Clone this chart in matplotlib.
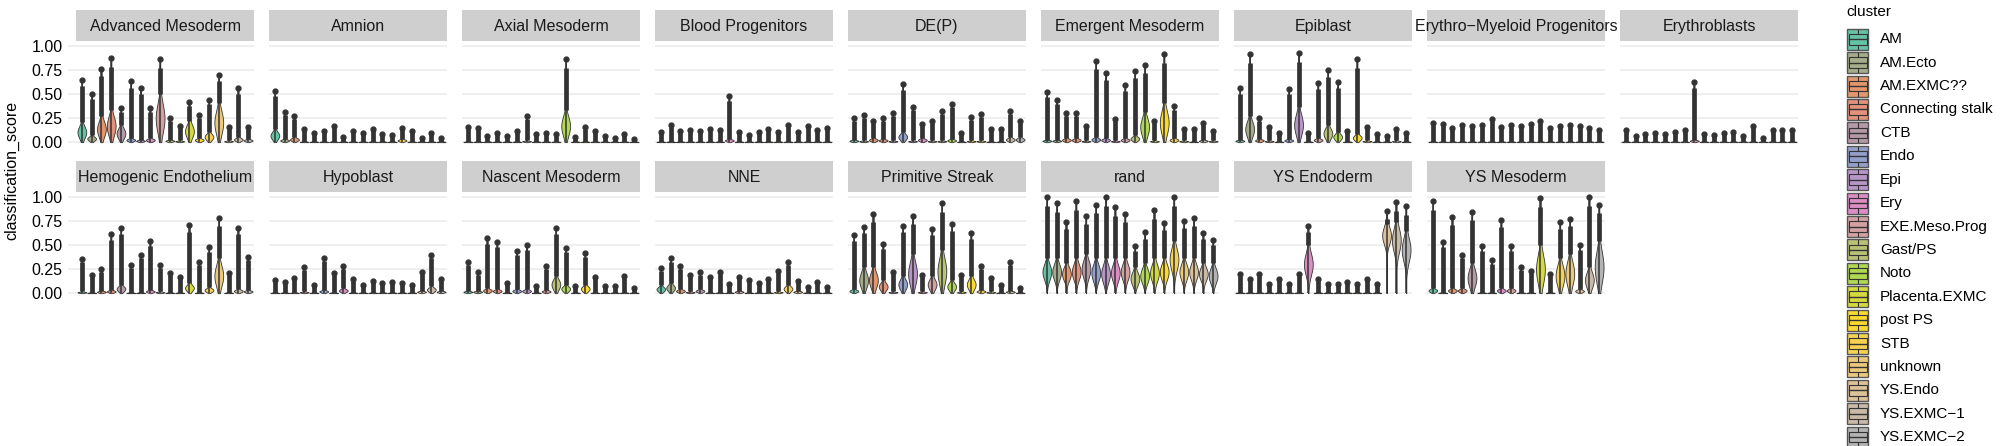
import numpy as np
import matplotlib.pyplot as plt
from matplotlib.patches import Rectangle
from matplotlib.colors import to_rgb, to_hex

plt.rcParams['font.family'] = ['Liberation Sans', 'DejaVu Sans']

clusters = ["AM", "AM.Ecto", "AM.EXMC??", "Connecting stalk", "CTB", "Endo", "Epi",
            "Ery", "EXE.Meso.Prog", "Gast/PS", "Noto", "Placenta.EXMC", "post PS",
            "STB", "unknown", "YS.Endo", "YS.EXMC\u22121", "YS.EXMC\u22122"]

panels = ["Advanced Mesoderm", "Amnion", "Axial Mesoderm", "Blood Progenitors", "DE(P)",
          "Emergent Mesoderm", "Epiblast", "Erythro\u2212Myeloid Progenitors", "Erythroblasts",
          "Hemogenic Endothelium", "Hypoblast", "Nascent Mesoderm", "NNE", "Primitive Streak",
          "rand", "YS Endoderm", "YS Mesoderm"]

# max classification score per cluster (top of outliers) and height of the violin body
adv_meso_max = [0.65, 0.50, 0.76, 0.87, 0.35, 0.63, 0.56, 0.35, 0.86, 0.25, 0.17, 0.42, 0.28, 0.44, 0.70, 0.16, 0.56, 0.16]
adv_meso_body = [0.23, 0.08, 0.30, 0.37, 0.20, 0.05, 0.03, 0.05, 0.55, 0.03, 0.02, 0.25, 0.05, 0.12, 0.45, 0.02, 0.06, 0.04]
amnion_max = [0.53, 0.31, 0.27, 0.135, 0.094, 0.12, 0.17, 0.05, 0.12, 0.10, 0.14, 0.087, 0.076, 0.15, 0.12, 0.04, 0.094, 0.04]
amnion_body = [0.15, 0.04, 0.06, 0, 0, 0, 0, 0, 0, 0, 0, 0, 0, 0.04, 0, 0, 0, 0]
axial_max = [0.156, 0.146, 0.066, 0.094, 0.066, 0.12, 0.27, 0.087, 0.094, 0.087, 0.86, 0.05, 0.156, 0.12, 0.06, 0.04, 0.087, 0.03]
axial_body = [0, 0, 0, 0, 0, 0, 0.02, 0, 0, 0, 0.37, 0, 0, 0, 0, 0, 0, 0]
blood_max = [0.11, 0.18, 0.12, 0.13, 0.12, 0.14, 0.125, 0.48, 0.11, 0.076, 0.11, 0.14, 0.11, 0.18, 0.11, 0.17, 0.13, 0.15]
blood_body = [0, 0, 0, 0, 0, 0, 0, 0.04, 0, 0, 0, 0, 0, 0, 0, 0, 0, 0]
dep_max = [0.25, 0.28, 0.22, 0.25, 0.30, 0.60, 0.37, 0.19, 0.22, 0.32, 0.40, 0.10, 0.26, 0.29, 0.14, 0.14, 0.32, 0.22]
dep_body = [0.03, 0.02, 0.05, 0.04, 0.02, 0.12, 0.02, 0.05, 0.02, 0.02, 0.04, 0, 0.02, 0.02, 0, 0, 0.06, 0.06]
emergent_max = [0.52, 0.44, 0.30, 0.30, 0.17, 0.84, 0.72, 0.24, 0.59, 0.74, 0.80, 0.22, 0.91, 0.375, 0.14, 0.14, 0.20, 0.12]
emergent_body = [0.03, 0.03, 0.05, 0.05, 0.02, 0.06, 0.05, 0.02, 0.05, 0.08, 0.35, 0.02, 0.45, 0.05, 0.02, 0, 0.03, 0.02]
epiblast_max = [0.56, 0.91, 0.25, 0.16, 0.10, 0.55, 0.93, 0.10, 0.61, 0.75, 0.62, 0.12, 0.86, 0.16, 0.08, 0.06, 0.14, 0.10]
epiblast_body = [0.03, 0.30, 0.04, 0.02, 0, 0.04, 0.40, 0, 0.05, 0.20, 0.12, 0, 0.10, 0.02, 0, 0, 0.02, 0]
emp_max = [0.20, 0.19, 0.15, 0.18, 0.17, 0.18, 0.24, 0.16, 0.18, 0.17, 0.19, 0.22, 0.15, 0.17, 0.18, 0.17, 0.15, 0.13]
emp_body = [0] * 18
erythroblast_max = [0.125, 0.06, 0.08, 0.10, 0.08, 0.11, 0.13, 0.62, 0.08, 0.07, 0.10, 0.11, 0.06, 0.17, 0.045, 0.125, 0.125, 0.125]
erythroblast_body = [0, 0, 0, 0, 0, 0, 0, 0.03, 0, 0, 0, 0, 0, 0, 0, 0, 0, 0]
hemogenic_max = [0.354, 0.19, 0.25, 0.61, 0.68, 0.29, 0.40, 0.54, 0.29, 0.21, 0.17, 0.71, 0.32, 0.48, 0.78, 0.21, 0.68, 0.38]
hemogenic_body = [0.02, 0, 0.03, 0.04, 0.10, 0, 0, 0.04, 0.02, 0, 0, 0.12, 0, 0.07, 0.40, 0, 0.05, 0.04]
hypoblast_max = [0.14, 0.12, 0.16, 0.27, 0.08, 0.37, 0.21, 0.28, 0.15, 0.08, 0.13, 0.11, 0.12, 0.11, 0.08, 0.22, 0.40, 0.15]
hypoblast_body = [0, 0, 0, 0.02, 0, 0.04, 0, 0.06, 0, 0, 0, 0, 0, 0, 0, 0.03, 0.08, 0.03]
nascent_max = [0.32, 0.215, 0.57, 0.53, 0.11, 0.44, 0.50, 0.076, 0.28, 0.68, 0.47, 0.076, 0.42, 0.17, 0.07, 0.07, 0.18, 0.05]
nascent_body = [0.03, 0.03, 0.06, 0.05, 0, 0.05, 0.05, 0, 0.04, 0.20, 0.10, 0, 0.10, 0, 0, 0, 0, 0]
nne_max = [0.26, 0.36, 0.28, 0.19, 0.215, 0.17, 0.22, 0.094, 0.17, 0.135, 0.11, 0.146, 0.23, 0.32, 0.13, 0.06, 0.12, 0.066]
nne_body = [0.09, 0.12, 0.05, 0.02, 0.05, 0, 0, 0, 0.03, 0, 0, 0, 0.02, 0.10, 0.03, 0, 0, 0]
ps_max = [0.60, 0.69, 0.82, 0.51, 0.22, 0.70, 0.80, 0.19, 0.67, 0.94, 0.72, 0.19, 0.62, 0.28, 0.16, 0.08, 0.32, 0.05]
ps_body = [0.05, 0.30, 0.30, 0.15, 0.02, 0.20, 0.45, 0.02, 0.20, 0.50, 0.15, 0.02, 0.20, 0.04, 0.02, 0, 0.03, 0]
rand_max = [1.0, 0.94, 0.74, 0.96, 0.80, 0.92, 1.0, 0.89, 0.82, 0.49, 0.63, 0.86, 0.73, 1.0, 0.75, 0.78, 0.62, 0.55]
rand_body = [0.40, 0.40, 0.35, 0.40, 0.45, 0.40, 0.40, 0.40, 0.40, 0.30, 0.35, 0.40, 0.40, 0.60, 0.40, 0.40, 0.35, 0.35]
rand_mid = [0.22, 0.22, 0.20, 0.22, 0.25, 0.21, 0.20, 0.21, 0.22, 0.15, 0.18, 0.21, 0.22, 0.35, 0.22, 0.22, 0.20, 0.18]
ys_endo_max = [0.20, 0.15, 0.20, 0.10, 0.15, 0.10, 0.20, 0.70, 0.15, 0.10, 0.10, 0.12, 0.10, 0.15, 0.10, 0.85, 0.95, 0.90]
ys_endo_body = [0, 0, 0, 0, 0, 0, 0, 0.55, 0, 0, 0, 0, 0, 0, 0, 0.80, 0.82, 0.72]
ys_endo_mid = [None] * 7 + [0.30] + [None] * 7 + [0.60, 0.55, 0.45]
ys_meso_max = [0.96, 0.53, 0.79, 0.40, 0.84, 0.49, 0.34, 0.76, 0.49, 0.27, 0.23, 0.99, 0.20, 0.74, 0.77, 0.50, 1.0, 0.92]
ys_meso_body = [0.06, 0, 0.06, 0.06, 0.35, 0, 0, 0.06, 0.06, 0, 0, 0.55, 0, 0.40, 0.45, 0.05, 0.30, 0.60]

panel_max = [adv_meso_max, amnion_max, axial_max, blood_max, dep_max, emergent_max, epiblast_max,
             emp_max, erythroblast_max, hemogenic_max, hypoblast_max, nascent_max, nne_max,
             ps_max, rand_max, ys_endo_max, ys_meso_max]
panel_body = [adv_meso_body, amnion_body, axial_body, blood_body, dep_body, emergent_body,
              epiblast_body, emp_body, erythroblast_body, hemogenic_body, hypoblast_body,
              nascent_body, nne_body, ps_body, rand_body, ys_endo_body, ys_meso_body]
panel_mid = {"rand": rand_mid, "YS Endoderm": ys_endo_mid}

# Set2 palette stretched to 18 colours (like colorRampPalette in R)
set2 = ["#66C2A5", "#FC8D62", "#8DA0CB", "#E78AC3", "#A6D854", "#FFD92F", "#E5C494", "#B3B3B3"]
base = np.array([to_rgb(c) for c in set2])
pos = np.linspace(0, len(set2) - 1, len(clusters))
colors = []
for p in pos:
    i = min(int(np.floor(p)), len(set2) - 2)
    t = p - i
    colors.append(to_hex(base[i] * (1 - t) + base[i + 1] * t))

W, H = 2000, 446
fig = plt.figure(figsize=(W / 100, H / 100), dpi=100)

pan_w, pitch = 178, 193
x0 = 76
rows_top = [41, 192]
pan_h = 106
strip_h = 31
dark = "#333333"


def draw_violin(ax, x, top, body, mid, color):
    ys = np.linspace(0, top, 300)
    if body < 0.01:
        c, s = 0.0, 0.007
    elif mid is None:
        c, s = 0.45 * body, 0.27 * body
    else:
        c, s = mid, (body - mid) / 2.2
    half = 0.45 * np.exp(-(ys - c) ** 2 / (2 * s ** 2))
    half = np.maximum(half, 0.02)
    ax.fill_betweenx(ys, x - half, x + half, facecolor=color, edgecolor=dark, lw=0.6, zorder=2)
    # boxplot whisker + stacked outliers
    ax.plot([x, x], [0, top], color=dark, lw=1.1, zorder=3, solid_capstyle='butt')
    lo = max(body * 0.9, 0.005)
    hi = top * 0.9
    if hi > lo:
        ax.plot([x, x], [lo, hi], color=dark, lw=3.4, zorder=3, solid_capstyle='butt')
    ax.plot([x], [top], 'o', color=dark, ms=3.5, zorder=4)


xs = np.arange(1, len(clusters) + 1)
for k, name in enumerate(panels):
    r, col = divmod(k, 9)
    left = x0 + col * pitch
    top_px = rows_top[r]
    ax = fig.add_axes([left / W, 1 - (top_px + pan_h) / H, pan_w / W, pan_h / H])
    ax.set_xlim(0.4, len(clusters) + 0.6)
    ax.set_ylim(-0.05, 1.05)
    for sp in ax.spines.values():
        sp.set_visible(False)
    ax.set_yticks([0, 0.25, 0.5, 0.75, 1.0])
    ax.yaxis.grid(True, color="#EBEBEB", lw=1.1)
    ax.set_axisbelow(True)
    ax.set_xticks([])
    if col == 0:
        ax.set_yticklabels(["0.00", "0.25", "0.50", "0.75", "1.00"], fontsize=11.5)
        ax.tick_params(axis='y', length=5.5, width=1.1, color="#EBEBEB", pad=4)
    else:
        ax.set_yticklabels([])
        ax.tick_params(axis='y', length=0)
    mids = panel_mid.get(name, [None] * len(clusters))
    for x, top, body, mid, c in zip(xs, panel_max[k], panel_body[k], mids, colors):
        draw_violin(ax, x, top, body, mid, c)

    # facet strip
    sax = fig.add_axes([left / W, 1 - top_px / H, pan_w / W, strip_h / H])
    sax.set_xlim(0, 1)
    sax.set_ylim(0, 1)
    sax.add_patch(Rectangle((0, 0), 1, 1, facecolor="#CFCFCF", edgecolor="none"))
    sax.axis('off')
    sax.text(0.5, 0.47, name, ha='center', va='center', fontsize=11.5, color="#1A1A1A", clip_on=False)

fig.text(12 / W, 1 - 170 / H, "classification_score", rotation=90, ha='center', va='center',
         fontsize=11.5)

# legend
lax = fig.add_axes([1830 / W, 0, 170 / W, 1])
lax.set_xlim(1830, 2000)
lax.set_ylim(H, 0)
lax.axis('off')
lax.text(1846, 12, "cluster", ha='left', va='center', fontsize=11)
for i, (lab, c) in enumerate(zip(clusters, colors)):
    yc = 39.3 + 23.4 * i
    kx, kw, kh = 1847, 21, 21
    lax.add_patch(Rectangle((kx, yc - kh / 2), kw, kh, facecolor=c, edgecolor="#555555", lw=1.0))
    lax.add_patch(Rectangle((kx + 1.5, yc - kh / 4), kw - 3, kh / 2, facecolor="none", edgecolor=dark, lw=0.8))
    lax.plot([kx + 1.5, kx + kw - 1.5], [yc, yc], color=dark, lw=1.0)
    lax.plot([kx + kw / 2, kx + kw / 2], [yc - kh / 2 + 1, yc - kh / 4], color=dark, lw=0.8)
    lax.plot([kx + kw / 2, kx + kw / 2], [yc + kh / 4, yc + kh / 2 - 1], color=dark, lw=0.8)
    lax.text(1880, yc, lab, ha='left', va='center', fontsize=11)

fig.savefig("out.png", dpi=100)
